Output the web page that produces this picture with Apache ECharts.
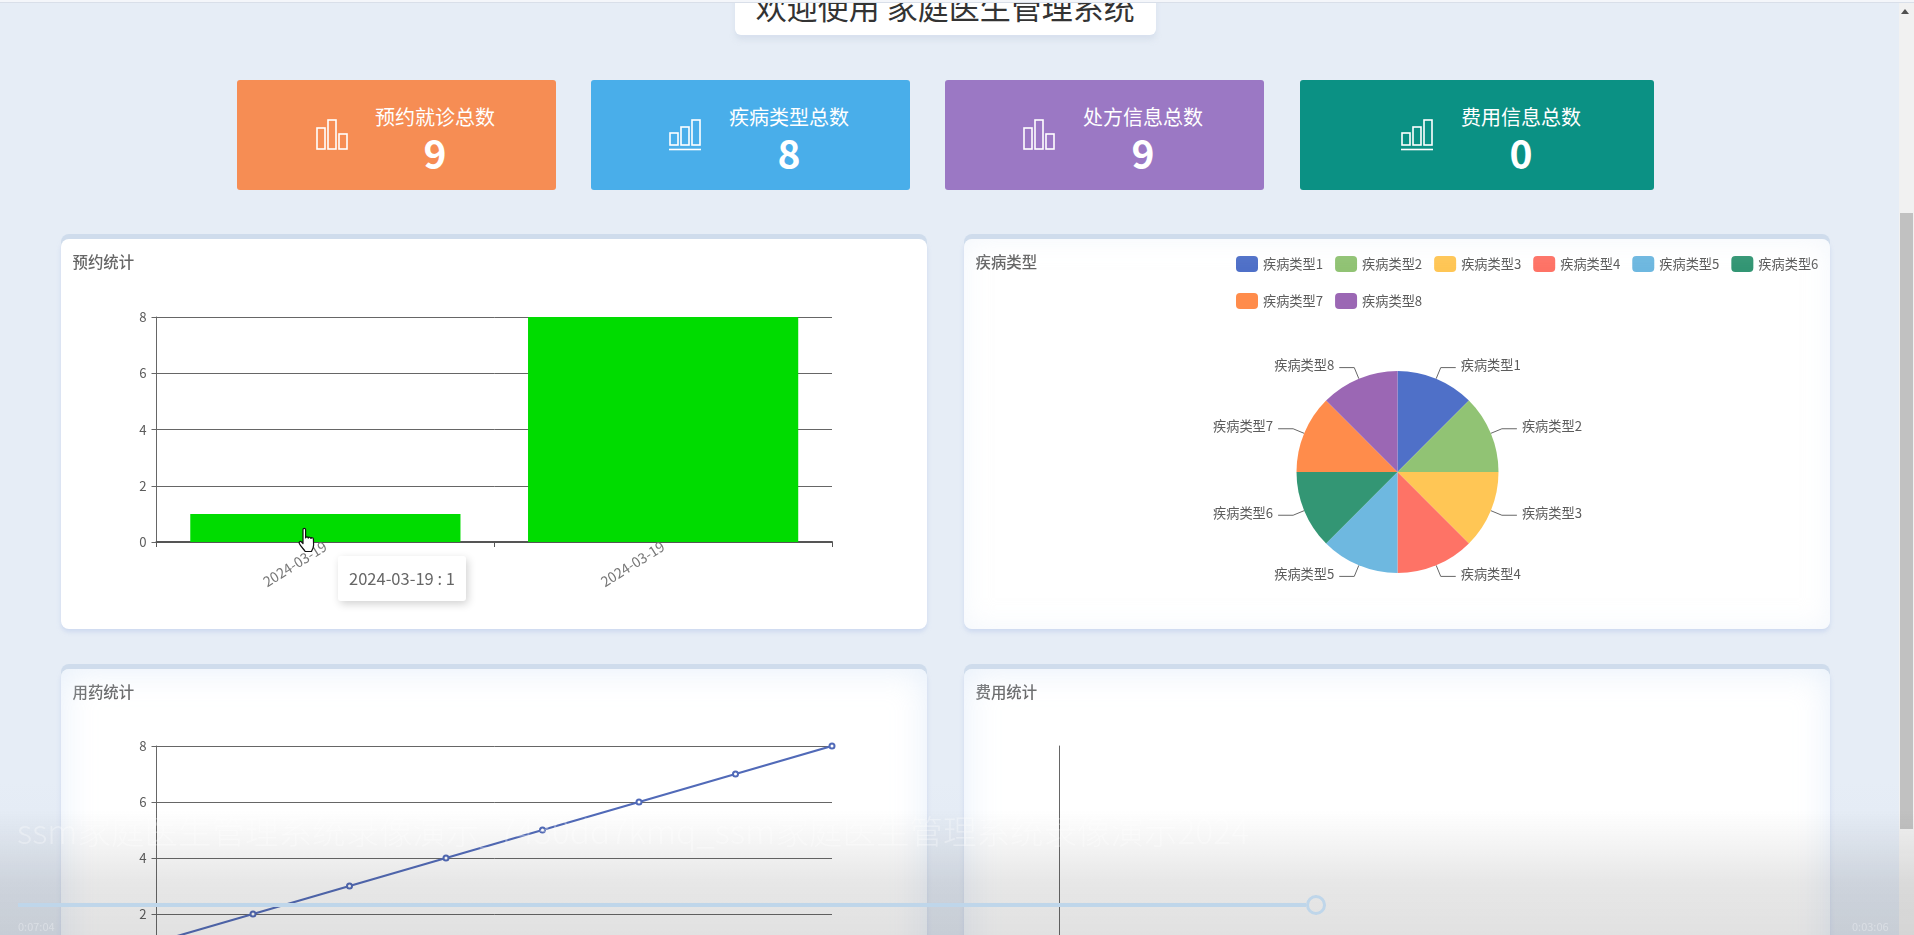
<!DOCTYPE html>
<html lang="zh">
<head>
<meta charset="utf-8">
<title>家庭医生管理系统</title>
<script src="https://cdn.jsdelivr.net/npm/echarts@6/dist/echarts.min.js"></script>
<style>
html,body{margin:0;padding:0;width:1914px;height:935px;overflow:hidden;font-family:"Noto Sans CJK SC","Noto Sans",sans-serif;}
body{background:linear-gradient(180deg,#e6edf6 0,#e6edf6 780px,#e1e8f2 935px);}
.abs{position:absolute;}
#topline{left:0;top:0;width:1914px;height:2px;background:#f4f6fa;border-bottom:1px solid #d9dfe9;z-index:5;}
#headcard{left:734.5px;top:-40px;width:421.5px;height:75px;background:#fff;border-radius:6px;box-shadow:0 1px 1px #d9e2ef,0 5px 5px rgba(205,215,230,.5);overflow:hidden;}
#headtext{position:absolute;left:0;right:0;top:26px;height:40px;line-height:40px;text-align:center;font-size:31px;color:#333;white-space:pre;}
.stat{top:80px;height:110px;border-radius:3px;color:#fff;}
.stat .lab{position:absolute;top:24px;width:120px;height:26px;line-height:26px;font-size:20px;text-align:center;white-space:nowrap;font-weight:400;}
.stat .num{position:absolute;top:45px;width:120px;height:54px;line-height:54px;font-size:39px;font-weight:700;text-align:center;}
.stat svg{position:absolute;top:38px;}
.panel{height:390px;background:#fff;border-radius:8px;box-shadow:0 -5px 0 #cfdcec,0 3px 4px rgba(190,205,235,.6);}
.panel.glow::after{content:"";position:absolute;inset:0;border-radius:8px;box-shadow:inset 0 0 34px rgba(222,234,248,.75);pointer-events:none;}
.panel.faint::after{content:"";position:absolute;inset:0;border-radius:8px;box-shadow:inset 0 0 26px rgba(232,240,250,.5);pointer-events:none;}
.chart{position:absolute;left:0;top:0;width:866.5px;height:390px;}
#sbar{left:1899px;top:0;width:15px;height:935px;background:#f1f1f1;}
#sthumb{left:1900px;top:213px;width:13px;height:616px;background:#c1c1c1;}
#sup{left:1901px;top:9px;width:0;height:0;border-left:4px solid transparent;border-right:4px solid transparent;border-bottom:5px solid #505050;}
#shade{left:0;top:810px;width:1914px;height:125px;background:linear-gradient(180deg,rgba(50,50,50,0) 0%,rgba(50,50,50,.063) 32%,rgba(50,50,50,.117) 58.4%,rgba(50,50,50,.146) 100%);pointer-events:none;z-index:20;}
#vidtitle{left:17px;top:805px;height:50px;line-height:50px;font-size:33.5px;font-weight:300;color:rgba(255,255,255,.3);white-space:pre;z-index:21;}
#track{left:18px;top:903px;width:1288px;height:4px;background:#bfd6ea;z-index:21;}
#knob{left:1306px;top:895px;width:14px;height:14px;border:3px solid #bfd6ea;border-radius:50%;z-index:21;}
.vt{top:918px;font-size:11px;line-height:16px;color:rgba(255,255,255,.32);z-index:21;}
#hand{left:297px;top:527px;z-index:22;}
</style>
</head>
<body>
<div class="abs" id="topline"></div>
<div class="abs" id="headcard"><div id="headtext"></div></div>
<div id="stats"></div>

<div class="abs panel" style="left:60.5px;top:239px;width:866.5px"><div class="chart" id="c1"></div></div>
<div class="abs panel faint" style="left:963.5px;top:239px;width:866px"><div class="chart" id="c2"></div></div>
<div class="abs panel glow" style="left:60.5px;top:669px;width:866.5px"><div class="chart" id="c3"></div></div>
<div class="abs panel glow" style="left:963.5px;top:669px;width:866px"><div class="chart" id="c4"></div></div>

<div class="abs" id="sbar"></div><div class="abs" id="sthumb"></div><div class="abs" id="sup"></div>

<svg class="abs" id="hand" width="26" height="30" viewBox="0 0 26 30">
<path d="M6 2.5c0-1.6 2.6-1.6 2.6 0V11c.3-1.5 2.5-1.4 2.7.2.3-1.4 2.4-1.3 2.6.3.4-1.2 2.4-1 2.5.6l.2 6c0 3-1 4.5-2.2 6.4H8.2C7 22.400 3.700 19.500 2.300 16.500c-.7-1.500 1-2.700 2.300-1.500L6 16.500Z" fill="#fff" stroke="#111" stroke-width="1.200" stroke-linejoin="round"/>
</svg>

<div class="abs" id="shade"></div>
<div class="abs" id="vidtitle"></div>
<div class="abs" id="track"></div><div class="abs" id="knob"></div>
<div class="abs vt" style="left:18px">0:07:04</div>
<div class="abs vt" style="left:1852px">0:03:06</div>

<script>
const pageTitle = "欢迎使用 家庭医生管理系统";
const videoTitle = "ssm家庭医生管理系统录像演示_7430dd7kmq_ssm家庭医生管理系统录像演示2024";

const statLabels = ["预约就诊总数", "疾病类型总数", "处方信息总数", "费用信息总数"];
const statValues = [9, 8, 9, 0];
const statColors = ["#f68d54", "#49aeea", "#9b78c4", "#0b9184"];
const statLefts = [237, 591, 945, 1300];
const statWidths = [319, 319, 319, 354];
const statIconLefts = [77, 76, 76, 99];
const statTextLefts = [138, 138, 138, 161];

const panelTitles = ["预约统计", "疾病类型", "用药统计", "费用统计"];

const bookingDates = ["2024-03-19", "2024-03-19"];
const bookingCounts = [1, 8];

const diseaseNames = ["疾病类型1", "疾病类型2", "疾病类型3", "疾病类型4", "疾病类型5", "疾病类型6", "疾病类型7", "疾病类型8"];
const diseaseCounts = [1, 1, 1, 1, 1, 1, 1, 1];
const diseaseColors = ["#4f70c8", "#91c374", "#ffc655", "#fe7366", "#6eb8e0", "#339674", "#ff8c4b", "#9b67b4"];

const drugNames = ["药品1", "药品2", "药品3", "药品4", "药品5", "药品6", "药品7", "药品8"];
const drugCounts = [1, 2, 3, 4, 5, 6, 7, 8];

const yTicksMax = 8;
const yTicksStep = 2;

document.getElementById("headtext").textContent = pageTitle;
document.getElementById("vidtitle").textContent = videoTitle;

const icoA = '<svg width="36" height="34" viewBox="0 0 36 34" fill="none" stroke="#fff" stroke-width="1.6"><rect x="3" y="10" width="8" height="21"/><rect x="14" y="2" width="8" height="29"/><rect x="25" y="16" width="8" height="15"/></svg>';
const icoB = '<svg width="36" height="34" viewBox="0 0 36 34" fill="none" stroke="#fff" stroke-width="1.600"><rect x="3" y="15" width="8" height="12"/><rect x="14" y="9" width="8" height="18"/><rect x="25" y="2" width="8" height="25"/><path d="M2 31.500H34"/></svg>';
document.getElementById("stats").innerHTML = statLabels.map((lab, i) =>
  '<div class="abs stat" style="left:' + statLefts[i] + 'px;width:' + statWidths[i] + 'px;background:' + statColors[i] + '">' +
  (i % 2 ? icoB : icoA).replace('<svg ', '<svg style="left:' + statIconLefts[i] + 'px" ') +
  '<div class="lab" style="left:' + statTextLefts[i] + 'px">' + lab + '</div>' +
  '<div class="num" style="left:' + statTextLefts[i] + 'px">' + statValues[i] + '</div></div>').join("");

const FONT = '"Noto Sans CJK SC","Noto Sans",sans-serif';
const AX = "#666";
const TXT = "#5c5c5c";
const FS = 13.2;

function titleOf(i) {
  return { text: panelTitles[i], left: 11.5, top: 15.5, padding: 0,
    textStyle: { fontFamily: FONT, fontSize: 15.4, fontWeight: 500, color: "#666" } };
}
function valueAxis() {
  return { type: "value", min: 0, max: yTicksMax, interval: yTicksStep,
    axisLine: { show: true, lineStyle: { color: AX, width: 1 } },
    axisTick: { show: true, length: 5, lineStyle: { color: AX } },
    axisLabel: { color: TXT, fontFamily: FONT, fontSize: FS, margin: 10, padding: [0, 0, 2, 0] },
    splitLine: { show: true, lineStyle: { color: AX, width: 1, type: "solid" } } };
}
const grid = { left: 95.5, right: 96, top: 78, bottom: 87, containLabel: false };

const c1 = echarts.init(document.getElementById("c1"));
c1.setOption({
  animation: false,
  title: titleOf(0),
  grid: grid,
  tooltip: { show: true, trigger: "item", formatter: "{b} : {c}", position: [276.5, 317], alwaysShowContent: true,
    transitionDuration: 0, showDelay: 0, backgroundColor: "#fff", borderWidth: 0, padding: [10, 11],
    textStyle: { color: "#666", fontSize: 16.5, fontFamily: FONT },
    extraCssText: "box-shadow:2px 3px 8px rgba(0,0,0,.18);border-radius:3px;" },
  xAxis: { type: "category", data: bookingDates,
    axisLine: { lineStyle: { color: "#555", width: 2 } },
    axisTick: { show: true, length: 5, lineStyle: { color: "#555" } },
    axisLabel: { color: "#777", fontFamily: FONT, fontSize: 14, rotate: 32, margin: 3, interval: 0 } },
  yAxis: valueAxis(),
  series: [{ type: "bar", data: bookingCounts, barCategoryGap: "20%", itemStyle: { color: "#00dc00" } }]
});
c1.dispatchAction({ type: "showTip", seriesIndex: 0, dataIndex: 0 });

const legendBase = { icon: "roundRect", itemWidth: 22, itemHeight: 16, itemGap: 12, itemStyle: { borderWidth: 0 }, orient: "horizontal", padding: 0,
  textStyle: { color: TXT, fontFamily: FONT, fontSize: FS } };
const c2 = echarts.init(document.getElementById("c2"));
c2.setOption({
  animation: false,
  title: titleOf(1),
  color: diseaseColors,
  legend: [
    Object.assign({}, legendBase, { data: diseaseNames.slice(0, 6), left: 272, top: 17 }),
    Object.assign({}, legendBase, { data: diseaseNames.slice(6), left: 272, top: 54 })
  ],
  series: [{ type: "pie", center: [433.5, 233], radius: 101, startAngle: 90, avoidLabelOverlap: false,
    data: diseaseNames.map((n, i) => ({ name: n, value: diseaseCounts[i] })),
    label: { formatter: "{t|{b}}", rich: { t: { color: TXT, fontFamily: FONT, fontSize: FS, padding: [0, 0, 5, 0] } } },
    labelLine: { length: 12, length2: 15, lineStyle: { color: AX, width: 1 } } }]
});

const c3 = echarts.init(document.getElementById("c3"));
c3.setOption({
  animation: false,
  title: titleOf(2),
  grid: { left: 95.5, right: 96, top: 77, bottom: 89 },
  xAxis: { type: "category", boundaryGap: false, data: drugNames,
    axisLine: { lineStyle: { color: "#555" } }, axisLabel: { color: "#777", fontFamily: FONT, fontSize: FS } },
  yAxis: valueAxis(),
  series: [{ type: "line", data: drugCounts, symbol: "emptyCircle", symbolSize: 5, smooth: false,
    lineStyle: { color: "#516ab8", width: 2.2 }, itemStyle: { color: "#516ab8", borderWidth: 1.5 } }]
});

const c4 = echarts.init(document.getElementById("c4"));
c4.setOption({
  animation: false,
  title: titleOf(3),
  grid: { left: 95.5, right: 96, top: 77, bottom: 89 },
  xAxis: { type: "category", data: [], axisLine: { show: false }, axisTick: { show: false }, axisLabel: { show: false } },
  yAxis: { type: "value", axisLine: { show: true, lineStyle: { color: AX } }, axisTick: { show: false },
    axisLabel: { show: false }, splitLine: { show: false } },
  series: [{ type: "bar", data: [] }]
});
</script>
</body>
</html>
